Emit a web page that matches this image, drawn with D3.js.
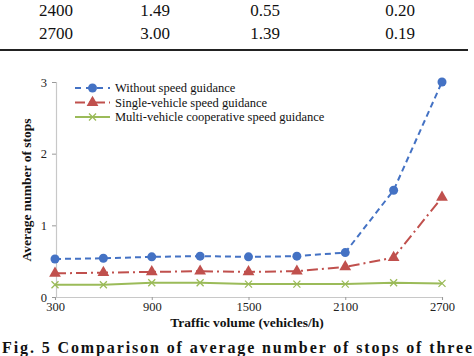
<!DOCTYPE html>
<html><head><meta charset="utf-8">
<script src="https://cdn.jsdelivr.net/npm/d3@7"></script>
<style>body{margin:0;background:#fff}svg{display:block}</style>
</head><body>
<svg id="c" width="474" height="356" font-family="Liberation Serif"></svg>
<script>
const volumes = [300,600,900,1200,1500,1800,2100,2400,2700];
const withoutGuidance = [0.53,0.54,0.56,0.57,0.56,0.57,0.62,1.49,3.00];
const singleVehicle = [0.33,0.34,0.35,0.36,0.35,0.36,0.42,0.55,1.39];
const multiVehicle = [0.17,0.17,0.20,0.20,0.18,0.18,0.18,0.20,0.19];
const xTicks = [300,900,1500,2100,2700];
const yTicks = [0,1,2,3];
const seriesNames = ["Without speed guidance","Single-vehicle speed guidance","Multi-vehicle cooperative speed guidance"];
const tableRows = [["2400","1.49","0.55","0.20"],["2700","3.00","1.39","0.19"]];

const svg = d3.select("#c");
const FF = "Liberation Serif";

// table fragment
const colX = [56,155,265,400];
tableRows.forEach((r,i)=>{
  r.forEach((t,j)=>{
    svg.append("text").attr("x",colX[j]).attr("y",16+i*23).attr("text-anchor","middle")
      .attr("font-family",FF).attr("font-size",17).attr("fill","#111").text(t);
  });
});
svg.append("line").attr("x1",0).attr("x2",468).attr("y1",50).attr("y2",50).attr("stroke","#222").attr("stroke-width",2);

const x = d3.scaleLinear().domain([300,2700]).range([55,442]);
const y = d3.scaleLinear().domain([0,3]).range([297,82]);

const axisCol = "#c8c8c8";
const gx = svg.append("g").attr("transform","translate(0,297)")
  .call(d3.axisBottom(x).tickValues(xTicks).tickSize(3).tickFormat(d3.format("d")));
gx.attr("font-family",FF);
gx.select(".domain").attr("stroke",axisCol).attr("stroke-width",1.2);
gx.selectAll(".tick line").attr("stroke","#999");
gx.selectAll(".tick text").attr("font-family",FF).attr("font-size",12.5).attr("fill","#222").attr("dy","0.6em");

const gy = svg.append("g").attr("transform","translate(56,0)")
  .call(d3.axisLeft(y).tickValues(yTicks).tickSize(4).tickFormat(d3.format("d")));
gy.attr("font-family",FF);
gy.select(".domain").attr("stroke",axisCol).attr("stroke-width",1.2);
gy.selectAll(".tick line").attr("stroke","#999");
gy.selectAll(".tick text").attr("font-family",FF).attr("font-size",12.5).attr("fill","#222").attr("dx","-2");

svg.append("text").attr("x",247).attr("y",327).attr("text-anchor","middle")
  .attr("font-family",FF).attr("font-size",13.5).attr("font-weight","bold").attr("fill","#111")
  .text("Traffic volume (vehicles/h)");
svg.append("text").attr("transform","translate(31,190) rotate(-90)").attr("text-anchor","middle")
  .attr("font-family",FF).attr("font-size",13.5).attr("font-weight","bold").attr("fill","#111")
  .text("Average number of stops");

const series = [
  {vals:withoutGuidance,color:"#4472C4",dash:"6,4",marker:"circle"},
  {vals:singleVehicle,color:"#C0504D",dash:"11,4,2,4",marker:"triangle"},
  {vals:multiVehicle,color:"#9BBB59",dash:null,marker:"x"}
];
const line = d3.line().x(d=>x(d[0])).y(d=>y(d[1]));
function drawMarker(g,type,cx,cy,color){
  if(type==="circle") g.append("circle").attr("cx",cx).attr("cy",cy).attr("r",4.5).attr("fill",color);
  else if(type==="triangle") g.append("path").attr("d",d3.symbol(d3.symbolTriangle,60)()).attr("transform",`translate(${cx},${cy})`).attr("fill",color);
  else g.append("path").attr("d",`M${cx-3.5},${cy-3.5}L${cx+3.5},${cy+3.5}M${cx-3.5},${cy+3.5}L${cx+3.5},${cy-3.5}`).attr("stroke",color).attr("stroke-width",1.3);
}
series.forEach(s=>{
  const pts = volumes.map((v,i)=>[v,s.vals[i]]);
  const p = svg.append("path").attr("d",line(pts)).attr("fill","none").attr("stroke",s.color).attr("stroke-width",2);
  if(s.dash) p.attr("stroke-dasharray",s.dash);
  const g = svg.append("g");
  pts.forEach(d=>drawMarker(g,s.marker,x(d[0]),y(d[1]),s.color));
});

// legend
series.forEach((s,i)=>{
  const ly = 88+i*14.5;
  const l = svg.append("line").attr("x1",75).attr("x2",110).attr("y1",ly).attr("y2",ly).attr("stroke",s.color).attr("stroke-width",2);
  if(s.dash) l.attr("stroke-dasharray",i===0?"6,5":"10,4,2,4");
  drawMarker(svg,s.marker,92.5,ly,s.color);
  svg.append("text").attr("x",115).attr("y",ly+4).attr("font-family",FF).attr("font-size",12.5).attr("fill","#111").text(seriesNames[i]);
});

// caption
svg.append("text").attr("x",2).attr("y",353).attr("font-family",FF).attr("font-size",16).attr("font-weight","bold")
  .attr("fill","#111").attr("textLength",470).attr("lengthAdjust","spacing")
  .text("Fig. 5  Comparison of average number of stops of three");
</script>
</body></html>
